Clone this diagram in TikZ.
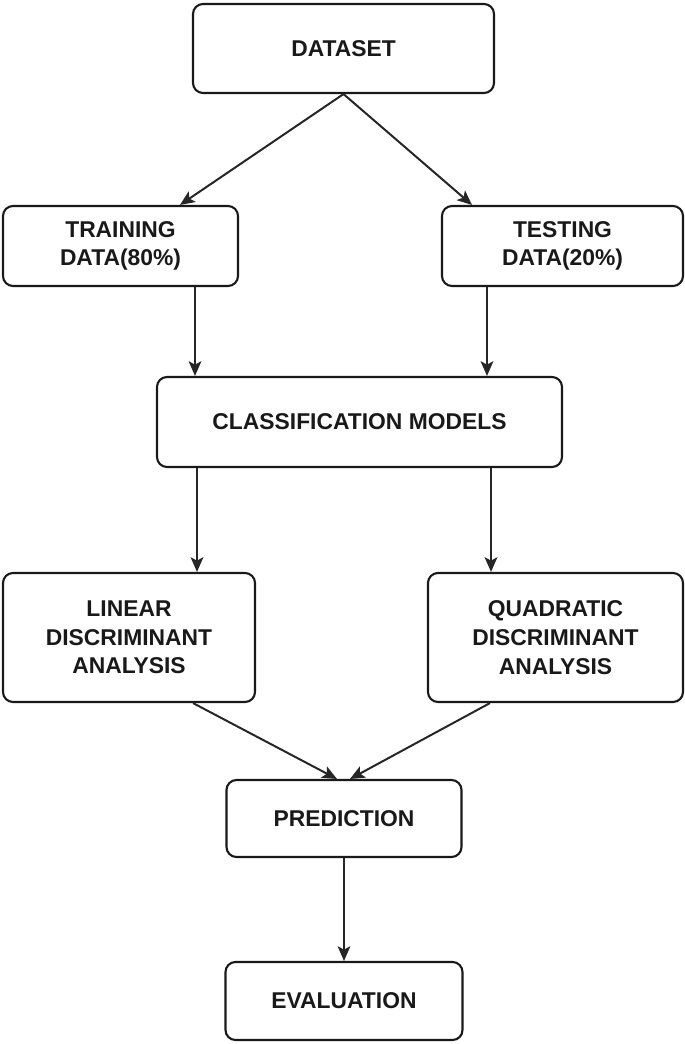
\documentclass[tikz,border=0pt]{standalone}
\usepackage{fontspec}
\setmainfont{Liberation Sans}
\usetikzlibrary{arrows.meta}
\tikzset{
	stagebox/.style={draw=black!90,line width=1.8pt,rounded corners=0.3cm,align=center,inner sep=0pt,font=\bfseries\fontsize{19.5pt}{24.5pt}\selectfont,text=black!90},
	flow/.style={draw=black!85,line width=1.7pt,-{Stealth[length=4.4mm,width=3.8mm,inset=1mm]}}
}
\begin{document}
\begin{tikzpicture}[x=0.03cm,y=-0.03cm]
			\useasboundingbox (0,0) rectangle (685,1044);
			\node[stagebox,minimum width=9.03cm,minimum height=2.67cm] (dataset) at (343.5,48.5) {DATASET};
			\node[stagebox,minimum width=7.05cm,minimum height=2.4cm] (train) at (120.5,246) {TRAINING\\DATA(80\%)};
			\node[stagebox,minimum width=7.23cm,minimum height=2.4cm] (test) at (562.5,246) {TESTING\\DATA(20\%)};
			\node[stagebox,minimum width=12.15cm,minimum height=2.7cm] (models) at (359.5,422) {CLASSIFICATION MODELS};
			\node[stagebox,minimum width=7.56cm,minimum height=3.87cm] (lda) at (129,637.5) {LINEAR\\DISCRIMINANT\\ANALYSIS};
			\node[stagebox,minimum width=7.65cm,minimum height=3.87cm] (qda) at (555.5,637.5) {QUADRATIC\\DISCRIMINANT\\ANALYSIS};
			\node[stagebox,minimum width=7.05cm,minimum height=2.31cm] (predict) at (344,818.5) {PREDICTION};
			\node[stagebox,minimum width=7.11cm,minimum height=2.34cm] (evaluate) at (344,1001) {EVALUATION};
			\coordinate (trainout) at ([xshift=2.235cm]train.south);
			\coordinate (testout) at ([xshift=-2.265cm]test.south);
			\coordinate (ldain) at ([xshift=-4.875cm]models.south);
			\coordinate (qdain) at ([xshift=3.945cm]models.south);
			\draw[flow] (dataset.south) -- ([xshift=1.785cm]train.north);
			\draw[flow] (dataset.south) -- ([xshift=-2.715cm]test.north);
			\draw[flow] (trainout) -- (trainout |- models.north);
			\draw[flow] (testout) -- (testout |- models.north);
			\draw[flow] (ldain) -- (ldain |- lda.north);
			\draw[flow] (qdain) -- (qdain |- qda.north);
			\draw[flow] ([xshift=1.92cm]lda.south) -- ([xshift=-0.21cm]predict.north);
			\draw[flow] ([xshift=-1.965cm]qda.south) -- ([xshift=0.18cm]predict.north);
			\draw[flow] (predict.south) -- (evaluate.north);
		\end{tikzpicture}
\end{document}
